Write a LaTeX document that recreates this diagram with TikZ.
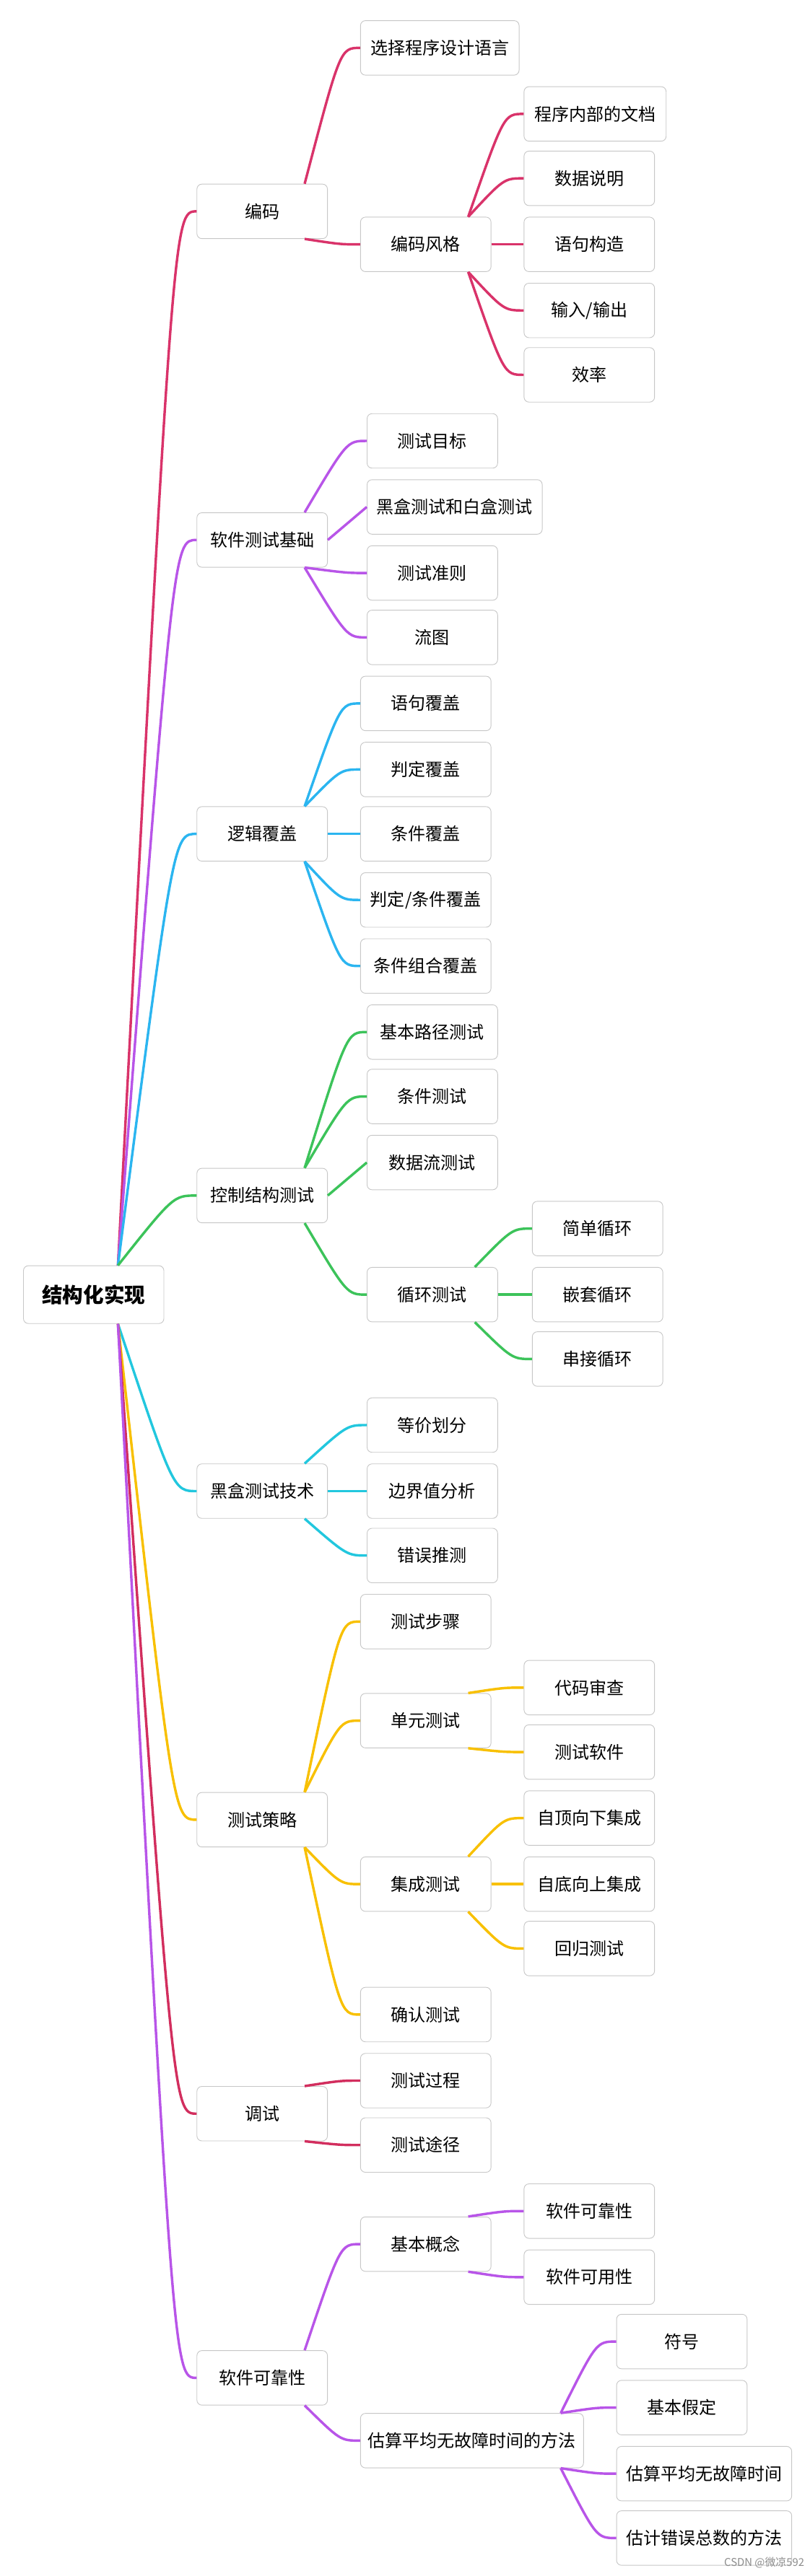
\documentclass[tikz,border=0pt]{standalone}
\usepackage{fontspec}
\setmainfont{Noto Sans CJK SC}
\begin{document}
\begin{tikzpicture}[x=1pt,y=-1pt,
  bx/.style={draw=black!22,rounded corners=3pt,fill=white,minimum height=33pt,minimum width=79pt,anchor=west,font=\fontsize{10.5}{12}\selectfont,inner sep=2pt},
  ln/.style={line width=1.5pt}]
\definecolor{cA}{HTML}{D9336A}\definecolor{cB}{HTML}{B855E8}\definecolor{cC}{HTML}{2BB5F0}
\definecolor{cD}{HTML}{3CC35A}\definecolor{cE}{HTML}{22C7DE}\definecolor{cF}{HTML}{F8C000}
\definecolor{cG}{HTML}{D22E5E}
\useasboundingbox (0,0) rectangle (490,1560);
\newcommand\up[3]{\draw[ln,#3] ([xshift=-14pt]#1.north east) .. controls ([xshift=-12pt]#2.west) .. (#2.west);}
\newcommand\dn[3]{\draw[ln,#3] ([xshift=-14pt]#1.south east) .. controls ([xshift=-12pt]#2.west) .. (#2.west);}
\newcommand\st[3]{\draw[ln,#3] (#1.east) -- (#2.west);}
\newcommand\rup[2]{\draw[ln,#2] ([xshift=-28pt]root.north east) .. controls ([xshift=-14pt]#1.west) .. (#1.west);}
\newcommand\rdn[2]{\draw[ln,#2] ([xshift=-28pt]root.south east) .. controls ([xshift=-14pt]#1.west) .. (#1.west);}
% root
\node[bx,minimum width=85pt,minimum height=35pt,font=\fontsize{12.5}{14}\selectfont\bfseries] (root) at (14,784) {结构化实现};
% level 1
\node[bx] (a) at (119,128) {编码};
\node[bx] (b) at (119,327) {软件测试基础};
\node[bx] (c) at (119,505) {逻辑覆盖};
\node[bx] (d) at (119,724) {控制结构测试};
\node[bx] (e) at (119,903) {黑盒测试技术};
\node[bx] (f) at (119,1102) {测试策略};
\node[bx] (g) at (119,1280) {调试};
\node[bx] (h) at (119,1440) {软件可靠性};
% 编码
\node[bx,minimum width=96pt] (a1) at (218,29) {选择程序设计语言};
\node[bx] (a2) at (218,148) {编码风格};
\node[bx,minimum width=86pt] (a21) at (317,69) {程序内部的文档};
\node[bx] (a22) at (317,108) {数据说明};
\node[bx] (a23) at (317,148) {语句构造};
\node[bx] (a24) at (317,188) {输入/输出};
\node[bx] (a25) at (317,227) {效率};
% 软件测试基础
\node[bx] (b1) at (222,267) {测试目标};
\node[bx,minimum width=106pt] (b2) at (222,307) {黑盒测试和白盒测试};
\node[bx] (b3) at (222,347) {测试准则};
\node[bx] (b4) at (222,386) {流图};
% 逻辑覆盖
\node[bx] (c1) at (218,426) {语句覆盖};
\node[bx] (c2) at (218,466) {判定覆盖};
\node[bx] (c3) at (218,505) {条件覆盖};
\node[bx] (c4) at (218,545) {判定/条件覆盖};
\node[bx] (c5) at (218,585) {条件组合覆盖};
% 控制结构测试
\node[bx] (d1) at (222,625) {基本路径测试};
\node[bx] (d2) at (222,664) {条件测试};
\node[bx] (d3) at (222,704) {数据流测试};
\node[bx] (d4) at (222,784) {循环测试};
\node[bx] (d41) at (322,744) {简单循环};
\node[bx] (d42) at (322,784) {嵌套循环};
\node[bx] (d43) at (322,823) {串接循环};
% 黑盒
\node[bx] (e1) at (222,863) {等价划分};
\node[bx] (e2) at (222,903) {边界值分析};
\node[bx] (e3) at (222,942) {错误推测};
% 测试策略
\node[bx] (f1) at (218,982) {测试步骤};
\node[bx] (f2) at (218,1042) {单元测试};
\node[bx] (f3) at (218,1141) {集成测试};
\node[bx] (f4) at (218,1220) {确认测试};
\node[bx] (f21) at (317,1022) {代码审查};
\node[bx] (f22) at (317,1061) {测试软件};
\node[bx] (f31) at (317,1101) {自顶向下集成};
\node[bx] (f32) at (317,1141) {自底向上集成};
\node[bx] (f33) at (317,1180) {回归测试};
% 调试
\node[bx] (g1) at (218,1260) {测试过程};
\node[bx] (g2) at (218,1299) {测试途径};
% 软件可靠性
\node[bx] (h1) at (218,1359) {基本概念};
\node[bx,minimum width=135pt] (h2) at (218,1478) {估算平均无故障时间的方法};
\node[bx] (h11) at (317,1339) {软件可靠性};
\node[bx] (h12) at (317,1379) {软件可用性};
\node[bx] (h21) at (373,1418) {符号};
\node[bx] (h22) at (373,1458) {基本假定};
\node[bx,minimum width=106pt] (h23) at (373,1498) {估算平均无故障时间};
\node[bx,minimum width=106pt] (h24) at (373,1537) {估计错误总数的方法};
\node[anchor=east,text=black!45,font=\fontsize{6.5}{7}\selectfont,inner sep=0pt] (wm) at (487,1552) {CSDN @微凉592};
% connectors
\rup{a}{cA}\rup{b}{cB}\rup{c}{cC}\rup{d}{cD}
\rdn{e}{cE}\rdn{f}{cF}\rdn{g}{cG}\rdn{h}{cB}
\up{a}{a1}{cA}\dn{a}{a2}{cA}
\up{a2}{a21}{cA}\up{a2}{a22}{cA}\st{a2}{a23}{cA}\dn{a2}{a24}{cA}\dn{a2}{a25}{cA}
\up{b}{b1}{cB}\st{b}{b2}{cB}\dn{b}{b3}{cB}\dn{b}{b4}{cB}
\up{c}{c1}{cC}\up{c}{c2}{cC}\st{c}{c3}{cC}\dn{c}{c4}{cC}\dn{c}{c5}{cC}
\up{d}{d1}{cD}\up{d}{d2}{cD}\st{d}{d3}{cD}\dn{d}{d4}{cD}
\up{d4}{d41}{cD}\st{d4}{d42}{cD}\dn{d4}{d43}{cD}
\up{e}{e1}{cE}\st{e}{e2}{cE}\dn{e}{e3}{cE}
\up{f}{f1}{cF}\up{f}{f2}{cF}\dn{f}{f3}{cF}\dn{f}{f4}{cF}
\up{f2}{f21}{cF}\dn{f2}{f22}{cF}
\up{f3}{f31}{cF}\st{f3}{f32}{cF}\dn{f3}{f33}{cF}
\up{g}{g1}{cG}\dn{g}{g2}{cG}
\up{h}{h1}{cB}\dn{h}{h2}{cB}
\up{h1}{h11}{cB}\dn{h1}{h12}{cB}
\up{h2}{h21}{cB}\up{h2}{h22}{cB}\dn{h2}{h23}{cB}\dn{h2}{h24}{cB}
\end{tikzpicture}
\end{document}
